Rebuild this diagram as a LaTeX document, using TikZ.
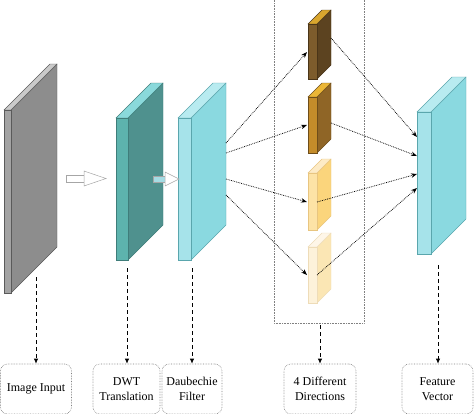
\documentclass[tikz,border=0pt]{standalone}
\usepackage{fontspec}
\setmainfont{Liberation Serif}
\usetikzlibrary{arrows.meta}
\definecolor{edgegray}{HTML}{5A5A5A}
\definecolor{grayfront}{HTML}{A3A3A3}
\definecolor{grayside}{HTML}{8D8D8D}
\definecolor{graytop}{HTML}{CACACA}
\definecolor{tealfront}{HTML}{5DB3AD}
\definecolor{tealside}{HTML}{4F918E}
\definecolor{tealtop}{HTML}{8AD9DB}
\definecolor{tealedge}{HTML}{3F7D7A}
\definecolor{cyanfront}{HTML}{A6E3EA}
\definecolor{cyanside}{HTML}{8AD9E0}
\definecolor{cyantop}{HTML}{B8EBF0}
\definecolor{cyanedge}{HTML}{5AA6AD}
\definecolor{bafront}{HTML}{7D5C2C}
\definecolor{baside}{HTML}{5C4320}
\definecolor{batop}{HTML}{D9A62E}
\definecolor{baedge}{HTML}{4A3518}
\definecolor{bbfront}{HTML}{C48C2A}
\definecolor{bbside}{HTML}{8F6526}
\definecolor{bbtop}{HTML}{EBB636}
\definecolor{bbedge}{HTML}{6E4D1A}
\definecolor{bcfront}{HTML}{FDE3A6}
\definecolor{bcside}{HTML}{FBD57C}
\definecolor{bctop}{HTML}{FDEBC6}
\definecolor{bcedge}{HTML}{E8C580}
\definecolor{bdfront}{HTML}{FDF2DA}
\definecolor{bdside}{HTML}{FBE6B4}
\definecolor{bdtop}{HTML}{FEF6E8}
\definecolor{bdedge}{HTML}{EEDCB8}
\definecolor{arrowfill}{HTML}{A5DCE4}
% x, ytop, ybot, w, d, front, side, top, edge
\newcommand\myslab[9]{%
  \filldraw[fill=#7,draw=#9,line width=0.4pt] (#1+#4,#2) -- (#1+#4+#5,#2-#5) -- (#1+#4+#5,#3-#5) -- (#1+#4,#3) -- cycle;
  \filldraw[fill=#8,draw=#9,line width=0.4pt] (#1,#2) -- (#1+#5,#2-#5) -- (#1+#4+#5,#2-#5) -- (#1+#4,#2) -- cycle;
  \filldraw[fill=#6,draw=#9,line width=0.4pt] (#1,#2) rectangle (#1+#4,#3);
}
\tikzset{
  lbl/.style={draw=gray,densely dotted,line width=0.6pt,rounded corners=7pt,minimum height=50pt,
    align=center,inner sep=0pt,font=\fontsize{12}{15}\selectfont,text=black},
  downarrow/.style={draw=black,line width=0.8pt,dash pattern=on 4pt off 3pt,
    -{Latex[length=5pt,width=4.5pt]}},
  conn/.style={draw=black,line width=0.75pt,densely dotted,
    -{Stealth[length=6pt,width=4.5pt]}},
  hollow/.style={draw=gray!70,fill=white,line width=0.5pt},
}
\begin{document}
\begin{tikzpicture}[x=1pt,y=-1pt]
\useasboundingbox (0,0) rectangle (474,413);
% directions group frame
\draw[gray,densely dotted,line width=0.6pt] (274,-5) -- (274,323) -- (364,323) -- (364,-5);
% slabs
\myslab{4}{110}{293}{7}{46}{grayfront}{grayside}{graytop}{edgegray}
\myslab{116}{118}{260}{12}{35}{tealfront}{tealside}{tealtop}{tealedge}
\myslab{178}{118}{260}{13}{35}{cyanfront}{cyanside}{cyantop}{cyanedge}
\myslab{417}{112}{254}{14}{35}{cyanfront}{cyanside}{cyantop}{cyanedge}
\myslab{308}{24}{79}{9}{14}{bafront}{baside}{batop}{baedge}
\myslab{308}{97}{153}{9}{14}{bbfront}{bbside}{bbtop}{bbedge}
\myslab{308}{173}{230}{9}{14}{bcfront}{bcside}{bctop}{bcedge}
\myslab{308}{247}{303}{9}{14}{bdfront}{bdside}{bdtop}{bdedge}
% block arrows
\draw[hollow] (66,175) rectangle (84,182);
\draw[hollow] (84,171) -- (106,178.5) -- (84,186) -- cycle;
\draw[hollow,fill=arrowfill] (153,176) rectangle (165,182);
\draw[hollow] (165,172) -- (179,179) -- (165,186) -- cycle;
% connector coordinates
\coordinate (d1) at (226,143);
\coordinate (d2) at (226,153);
\coordinate (d3) at (226,179);
\coordinate (d4) at (226,195);
\coordinate (b1in) at (307,52);
\coordinate (b2in) at (307,125);
\coordinate (b3in) at (307,202);
\coordinate (b4in) at (307,275);
\coordinate (b1out) at (331,38);
\coordinate (b2out) at (331,123);
\coordinate (b3out) at (317,202);
\coordinate (b4out) at (317,275);
\coordinate (f1) at (417,137);
\coordinate (f2) at (417,156);
\coordinate (f3) at (417,174);
\coordinate (f4) at (417,188);
\draw[conn] (d1) -- (b1in);
\draw[conn] (d2) -- (b2in);
\draw[conn] (d3) -- (b3in);
\draw[conn] (d4) -- (b4in);
\draw[conn] (b1out) -- (f1);
\draw[conn] (b2out) -- (f2);
\draw[conn] (b3out) -- (f3);
\draw[conn] (b4out) -- (f4);
% labels
\node[lbl,minimum width=71pt] (l1) at (36,389) {Image Input};
\node[lbl,minimum width=67pt] (l2) at (126.5,389) {DWT\\Translation};
\node[lbl,minimum width=60pt] (l3) at (192,389) {Daubechie\\Filter};
\node[lbl,minimum width=72pt] (l4) at (320,389) {4 Different\\Directions};
\node[lbl,minimum width=71pt] (l5) at (437.5,389) {Feature\\Vector};
\coordinate (s1) at (36,277);
\coordinate (s2) at (127,268);
\coordinate (s3) at (192,268);
\coordinate (s4) at (320,325);
\coordinate (s5) at (438,265);
\draw[downarrow] (s1) -- (l1.north);
\draw[downarrow] (s2) -- (s2 |- l2.north);
\draw[downarrow] (s3) -- (l3.north);
\draw[downarrow] (s4) -- (l4.north);
\draw[downarrow] (s5) -- (s5 |- l5.north);
\end{tikzpicture}
\end{document}
